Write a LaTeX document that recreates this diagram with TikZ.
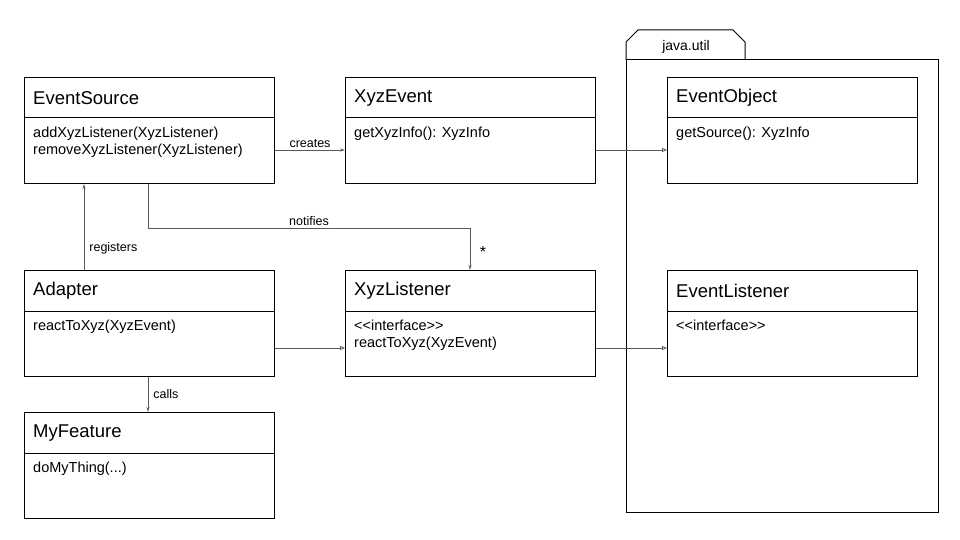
\documentclass[tikz,border=0pt]{standalone}
\usepackage{fontspec}
\setmainfont{Liberation Sans}
\usetikzlibrary{positioning}
\usetikzlibrary{arrows.meta}
\usetikzlibrary{calc}

\tikzset{
	classbox/.style={draw, line width=1pt, minimum width=250pt, minimum height=106pt, anchor=north west, inner sep=0pt},
	classtitle/.style={anchor=west, font=\fontsize{18.5}{22}\selectfont, inner sep=0pt},
	classbody/.style={anchor=north west, align=left, font=\fontsize{14.5}{17}\selectfont, inner sep=0pt},
	conn/.style={draw=black!65, line width=0.8pt},
	uses/.style={conn, -{Stealth[length=5pt, width=3pt]}},
	inherits/.style={conn, -{Triangle[open, length=5pt, width=4pt]}},
	connlabel/.style={font=\fontsize{12.5}{14}\selectfont, inner sep=1pt}
}

% one class box with its name and its methods
\newcommand{\umlclass}[5]{
	\node (#1) [classbox] at (#2,#3) {};
	\draw [line width=1pt] ($(#1.north west)+(0,41)$) -- ($(#1.north east)+(0,41)$);
	\node (#1-title) [classtitle] at ($(#1.north west)+(9,21)$) {#4};
	\node (#1-body) [classbody] at ($(#1.north west)+(9,50)$) {#5};
}
\newcommand{\iface}{{<}{<}interface{>}{>}}

\begin{document}
\begin{tikzpicture}[x=1pt, y=-1pt]
\useasboundingbox (0,0) rectangle (960,540);

% package java.util
\draw [line width=1pt] (626,60) -- (626,42) -- (638,30) -- (733,30) -- (745,42) -- (745,60);
\draw [line width=1pt] (626,60) rectangle (938,512);
\node (pkg) [font=\fontsize{14}{16}\selectfont] at (686,47) {java.util};

\umlclass{source}{24}{77}{EventSource}{addXyzListener(XyzListener)\\removeXyzListener(XyzListener)}
\umlclass{event}{345}{77}{XyzEvent}{getXyzInfo(): XyzInfo}
\umlclass{evobject}{667}{77}{EventObject}{getSource(): XyzInfo}
\umlclass{adapter}{24}{270}{Adapter}{reactToXyz(XyzEvent)}
\umlclass{listener}{345}{270}{XyzListener}{\iface\\reactToXyz(XyzEvent)}
\umlclass{evlistener}{667}{270}{EventListener}{\iface}
\umlclass{feature}{24}{412}{MyFeature}{doMyThing(...)}

% connectors
\draw [uses] (source.east |- 0,150) -- node (lcreates) [connlabel, above=1pt] {creates} (event.west |- 0,150);
\draw [inherits] (event.east |- 0,150) -- (evobject.west |- 0,150);
\draw [uses] (source.south -| 148,0) -- (148,228) -- node (lnotifies) [connlabel, above=1pt] {notifies} (470,228) -- (listener.north -| 470,0);
\node (lstar) [font=\fontsize{16}{18}\selectfont] at (483,252) {*};
\draw [uses] (adapter.north -| 84,0) -- node (lregisters) [connlabel, right=4pt, pos=0.25] {registers} (source.south -| 84,0);
\draw [inherits] (adapter.east |- 0,348) -- (listener.west |- 0,348);
\draw [inherits] (listener.east |- 0,348) -- (evlistener.west |- 0,348);
\draw [uses] (adapter.south -| 148,0) -- node (lcalls) [connlabel, right=4pt] {calls} (feature.north -| 148,0);
\end{tikzpicture}
\end{document}
